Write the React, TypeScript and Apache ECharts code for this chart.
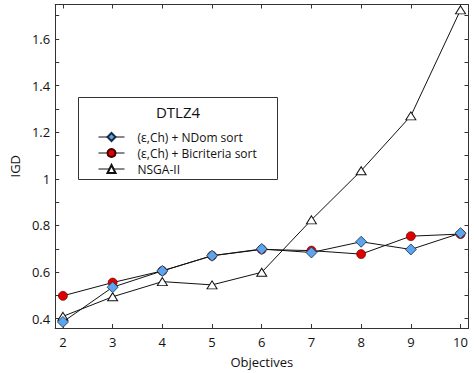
import React, { useEffect, useRef } from "react";
import * as echarts from "echarts";

const objectives = [2, 3, 4, 5, 6, 7, 8, 9, 10];
const ndomSort = [0.386, 0.535, 0.605, 0.67, 0.699, 0.684, 0.73, 0.697, 0.767];
const bicriteriaSort = [0.498, 0.555, 0.605, 0.67, 0.697, 0.692, 0.677, 0.754, 0.763];
const nsga2 = [0.41, 0.494, 0.559, 0.545, 0.599, 0.824, 1.035, 1.27, 1.725];
const xTicks = [2, 3, 4, 5, 6, 7, 8, 9, 10];
const yLabels = [0.4, 0.6, 0.8, 1.0, 1.2, 1.4, 1.6];
const yTicks = [0.4, 0.5, 0.6, 0.7, 0.8, 0.9, 1.0, 1.1, 1.2, 1.3, 1.4, 1.5, 1.6, 1.7];

const FONT = "Open Sans";

export default function App() {
  const ref = useRef<HTMLDivElement>(null);
  useEffect(() => {
    if (!ref.current) return;
    const chart = echarts.init(ref.current, null, { renderer: "svg" });
    const pair = (ys: number[]) => objectives.map((x, i) => [x, ys[i]]);
    const axisCommon = {
      axisLine: { show: true, lineStyle: { color: "#333", width: 1 } },
      splitLine: { show: false },
    };
    chart.setOption({
      animation: false,
      backgroundColor: "#fff",
      textStyle: { fontFamily: FONT },
      grid: { left: 42, right: 5.5, top: 4.5, bottom: 43, containLabel: false },
      xAxis: [
        {
          type: "value",
          min: 1.844,
          max: 10.16,
          position: "bottom",
          ...axisCommon,
          name: "Objectives",
          nameLocation: "middle",
          nameGap: 27,
          nameTextStyle: { fontSize: 13, color: "#111", fontFamily: FONT },
          axisTick: { show: true, inside: true, length: 4, customValues: xTicks, lineStyle: { color: "#333" } },
          axisLabel: { show: true, customValues: xTicks, fontSize: 13, color: "#111", margin: 7, fontFamily: FONT },
        },
        {
          type: "value",
          min: 1.844,
          max: 10.16,
          position: "top",
          ...axisCommon,
          axisTick: { show: true, inside: true, length: 4, customValues: xTicks, lineStyle: { color: "#333" } },
          axisLabel: { show: false },
        },
      ],
      yAxis: [
        {
          type: "value",
          min: 0.36,
          max: 1.748,
          position: "left",
          ...axisCommon,
          name: "IGD",
          nameLocation: "middle",
          nameGap: 28,
          nameTextStyle: { fontSize: 13, color: "#111", fontFamily: FONT },
          axisTick: { show: true, inside: true, length: 4, customValues: yTicks, lineStyle: { color: "#333" } },
          axisLabel: {
            show: true,
            customValues: yLabels,
            fontSize: 13,
            color: "#111",
            margin: 5,
            fontFamily: FONT,
            formatter: (v: number) => String(Math.round(v * 10) / 10),
          },
        },
        {
          type: "value",
          min: 0.36,
          max: 1.748,
          position: "right",
          ...axisCommon,
          axisTick: { show: true, inside: true, length: 4, customValues: yTicks, lineStyle: { color: "#333" } },
          axisLabel: { show: false },
        },
      ],
      legend: {
        show: true,
        orient: "vertical",
        left: 93,
        top: 125,
        itemWidth: 26,
        itemHeight: 10,
        itemGap: 2,
        data: ["(ε,Ch) + NDom sort", "(ε,Ch) + Bicriteria sort", "NSGA-II"],
        lineStyle: { width: 1 },
        textStyle: { fontSize: 12, lineHeight: 14, color: "#111", fontFamily: FONT, padding: [0, 0, 0, 8] },
        inactiveColor: "#111",
      },
      graphic: [
        {
          type: "rect",
          shape: { x: 78.5, y: 97.5, width: 199, height: 82 },
          style: { fill: "#fff", stroke: "#333", lineWidth: 1 },
          z: 0,
        },
        {
          type: "text",
          x: 178,
          y: 112,
          style: {
            text: "DTLZ4",
            fontSize: 15,
            fontFamily: FONT,
            fill: "#111",
            align: "center",
            verticalAlign: "middle",
          },
          z: 1,
        },
      ],
      series: [
        {
          name: "NSGA-II",
          type: "line",
          data: pair(nsga2),
          symbol: "triangle",
          symbolSize: [10, 8],
          lineStyle: { color: "#111", width: 1 },
          itemStyle: { color: "#fff", borderColor: "#111", borderWidth: 1 },
          z: 2,
        },
        {
          name: "(ε,Ch) + Bicriteria sort",
          type: "line",
          data: pair(bicriteriaSort),
          symbol: "circle",
          symbolSize: 9,
          lineStyle: { color: "#111", width: 1 },
          itemStyle: { color: "#e00000", borderColor: "#400000", borderWidth: 0.6 },
          z: 3,
        },
        {
          name: "(ε,Ch) + NDom sort",
          type: "line",
          data: pair(ndomSort),
          symbol: "diamond",
          symbolSize: 11,
          lineStyle: { color: "#111", width: 1 },
          itemStyle: { color: "#5aa5ee", borderColor: "#1a2a40", borderWidth: 0.8 },
          z: 4,
        },
      ],
    });
    return () => chart.dispose();
  }, []);
  return (
    <div
      ref={ref}
      style={{ position: "fixed", left: 0, top: 0, width: 474, height: 373, background: "#fff" }}
    />
  );
}
